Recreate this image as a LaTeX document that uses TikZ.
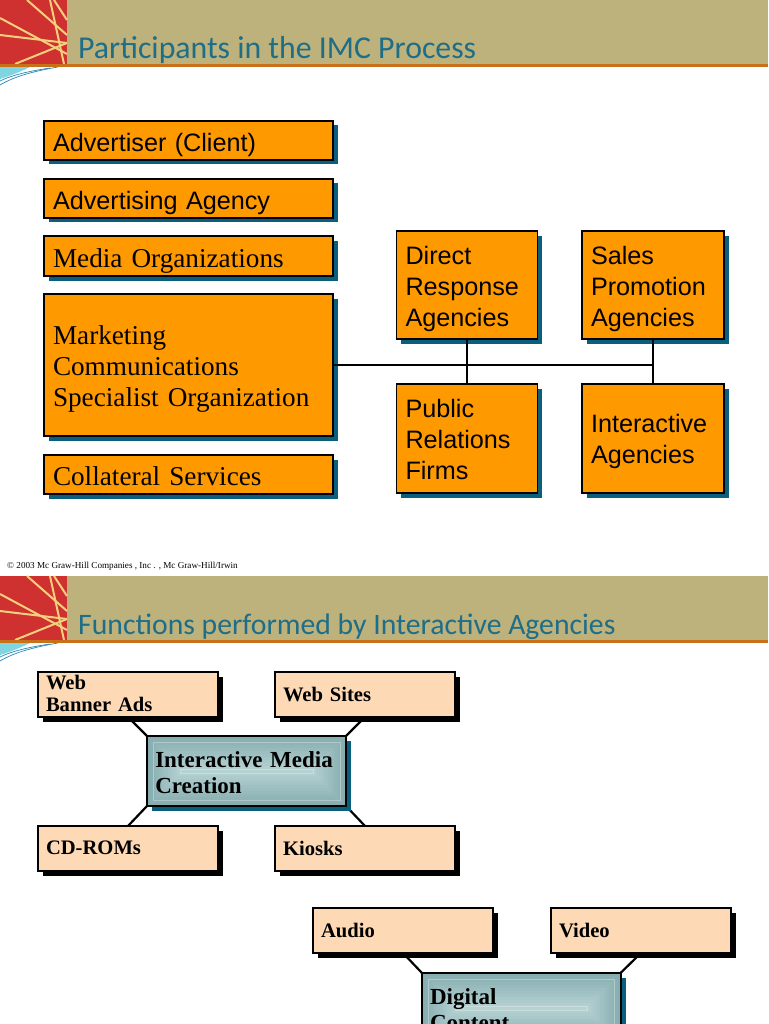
\documentclass[tikz,border=0pt]{standalone}
\usepackage{fontspec}
\setmainfont{Liberation Sans}
\newfontfamily\titlefont{Carlito}
\newfontfamily\labelfont{Liberation Serif}
\usetikzlibrary{positioning, shadows, calc}
\pgfdeclarelayer{background}
\pgfsetlayers{background,main}
\definecolor{bandkhaki}{HTML}{BDB27C}
\definecolor{bandrule}{HTML}{C8701A}
\definecolor{cornerred}{HTML}{CF3030}
\definecolor{cornerline}{HTML}{F3D07C}
\definecolor{swooshcyan}{HTML}{7FD6E0}
\definecolor{swooshblue}{HTML}{2A86B8}
\definecolor{titleteal}{HTML}{1F6D87}
\definecolor{boxorange}{HTML}{FF9900}
\definecolor{shadeteal}{HTML}{0A5F7D}
\definecolor{boxpeach}{HTML}{FDD9B5}
\definecolor{bevelouter}{HTML}{86ADB0}
\definecolor{bevelinner}{HTML}{B6D2D2}
\begin{document}
\begin{tikzpicture}[
            x=1pt, y=-1pt,
            size/.style 2 args={minimum width=#1pt, minimum height=#2pt, text width=#1pt-18pt},
            flatbox/.style={rectangle, draw=black, align=left, inner xsep=9pt, inner ysep=0pt, outer sep=0pt, text depth=0pt},
            orgbox/.style={flatbox, fill=boxorange, line width=1.5pt,
                drop shadow={shadow xshift=4.5pt, shadow yshift=-4.5pt, fill=shadeteal, opacity=1},
                font=\fontsize{25.2}{31}\selectfont},
            orgserif/.style={orgbox, font=\fontsize{27.2}{31}\selectfont\labelfont},
            taskbox/.style={flatbox, fill=boxpeach, line width=1.5pt, inner xsep=8pt, text width=164pt, text depth=1pt,
                drop shadow={shadow xshift=4.5pt, shadow yshift=-5pt, fill=black, opacity=1},
                font=\fontsize{20.6}{22}\selectfont\labelfont\bfseries},
            hubbox/.style={flatbox, fill=bevelouter, line width=2pt, inner xsep=8pt, text width=182.5pt, text depth=22pt,
                drop shadow={shadow xshift=5pt, shadow yshift=-5pt, fill=shadeteal, opacity=1},
                font=\fontsize{23}{26}\selectfont\labelfont\bfseries,
                path picture={
                    \foreach \d in {0,...,11}{
                        \pgfmathsetmacro{\mix}{100*\d/11}
                        \fill[bevelinner!\mix!bevelouter]
                            ($(path picture bounding box.north west)+(3*\d,3*\d)$) rectangle
                            ($(path picture bounding box.south east)-(3*\d,3*\d)$);
                    }
                    \foreach \d in {2,11}{
                        \draw[white, opacity=.3, line width=.6pt]
                            ($(path picture bounding box.north west)+(3*\d,3*\d)$) rectangle
                            ($(path picture bounding box.south east)-(3*\d,3*\d)$);
                    }
                }},
            link/.style={draw=black, line width=1.8pt},
            spoke/.style={draw=black, line width=2.2pt},
            headtitle/.style={anchor=west, inner sep=0pt, text=titleteal}
        ]
            \useasboundingbox (0,0) rectangle (768,1024);
            \clip (0,0) rectangle (768,1024);

            % slide headers
            \foreach \top/\titlesize/\heading in {0/31.8/Participants in the IMC Process, 576/29.7/Functions performed by Interactive Agencies}{
                \begin{scope}[shift={(0,\top)}]
                    \fill[bandkhaki] (0,0) rectangle (768,65);
                    \fill[cornerred] (0,0) rectangle (67,65);
                    \draw[cornerline, line width=2pt] (27,0) -- (67,35);
                    \draw[cornerline, line width=2pt] (50,0) -- (64,64);
                    \draw[cornerline, line width=2pt] (54,0) -- (67,20);
                    \draw[cornerline, line width=2pt] (0,18) -- (67,54);
                    \draw[cornerline, line width=2pt] (0,35) -- (67,43);
                    \draw[cornerline, line width=2pt] (15,64) -- (67,43);
                    \fill[swooshcyan] (0,67) -- (30,67) .. controls (20,72) and (10,76) .. (0,79) -- cycle;
                    \draw[swooshblue, line width=.7pt] (58,67) .. controls (35,71) and (15,76) .. (0,85);
                    \draw[swooshblue, line width=.7pt] (50,68) .. controls (30,71) and (12,75) .. (0,81);
                    \draw[bandrule, line width=2.5pt] (0,65.5) -- (768,65.5);
                    \node[headtitle, font=\fontsize{\titlesize}{36}\selectfont\titlefont] (title\top) at (78,50.5) {\heading};
                \end{scope}
            }

            % first slide
            \node[orgbox, size={289}{39}, text height=23pt, anchor=north west] (client) at (44,121) {Advertiser (Client)};
            \node[orgbox, size={289}{39}, text height=23pt, below=19pt of client] (agency) {Advertising Agency};
            \node[orgserif, size={289}{40}, text height=23pt, below=18pt of agency] (media) {Media Organizations};
            \node[orgserif, size={289}{142}, text depth=59pt, below=18pt of media] (specialist) {Marketing\\Communications\\Specialist Organization};
            \node[orgserif, size={289}{39}, text height=21pt, below=19pt of specialist] (collateral) {Collateral Services};
            \node[orgbox, size={141}{108}, text depth=60pt, anchor=north west] (direct) at (396.5,231) {Direct\\Response\\Agencies};
            \node[orgbox, size={142}{108}, text depth=60pt, right=44.5pt of direct] (sales) {Sales\\Promotion\\Agencies};
            \node[orgbox, size={141}{109}, text depth=60pt, below=45pt of direct] (public) {Public\\Relations\\Firms};
            \node[orgbox, size={142}{109}, text depth=31pt, right=44.5pt of public] (interactive) {Interactive\\Agencies};

            \path[link] (specialist.east) -- (specialist.east -| sales.south);
            \path[link] (direct) -- (public);
            \path[link] (sales) -- (interactive);

            \node[anchor=west, inner sep=0pt, font=\fontsize{9.15}{10}\selectfont\labelfont] (credit) at (7,566.5) {© 2003 Mc Graw-Hill Companies , Inc . , Mc Graw-Hill/Irwin};

            % second slide
            \node[taskbox, minimum width=180pt, minimum height=45pt, text depth=24pt, anchor=north west] (bannerads) at (38,672) {Web\\Banner Ads};
            \node[taskbox, minimum width=180pt, minimum height=45pt, right=57pt of bannerads] (websites) {Web Sites};
            \node[hubbox, minimum width=199pt, minimum height=70pt, anchor=north west] (creation) at (147,736) {Interactive Media\\Creation};
            \node[taskbox, minimum width=180pt, minimum height=45pt, anchor=north west] (cdroms) at (38,826) {CD-ROMs};
            \node[taskbox, minimum width=180pt, minimum height=45pt, right=57pt of cdroms] (kiosks) {Kiosks};
            \node[taskbox, minimum width=180pt, minimum height=45pt, anchor=north west] (audio) at (313,908) {Audio};
            \node[taskbox, minimum width=180pt, minimum height=45pt, right=58pt of audio] (video) {Video};
            \node[hubbox, minimum width=198pt, minimum height=70pt, anchor=north west] (content) at (422,973) {Digital\\Content};

            \begin{pgfonlayer}{background}
                \path[spoke] (creation.north west) -- (bannerads.south);
                \path[spoke] (creation.north east) -- (websites.south);
                \path[spoke] (creation.south west) -- (cdroms.north);
                \path[spoke] (creation.south east) -- (kiosks.north);
                \path[spoke] (content.north west) -- (audio.south);
                \path[spoke] (content.north east) -- (video.south);
            \end{pgfonlayer}
        \end{tikzpicture}
\end{document}
